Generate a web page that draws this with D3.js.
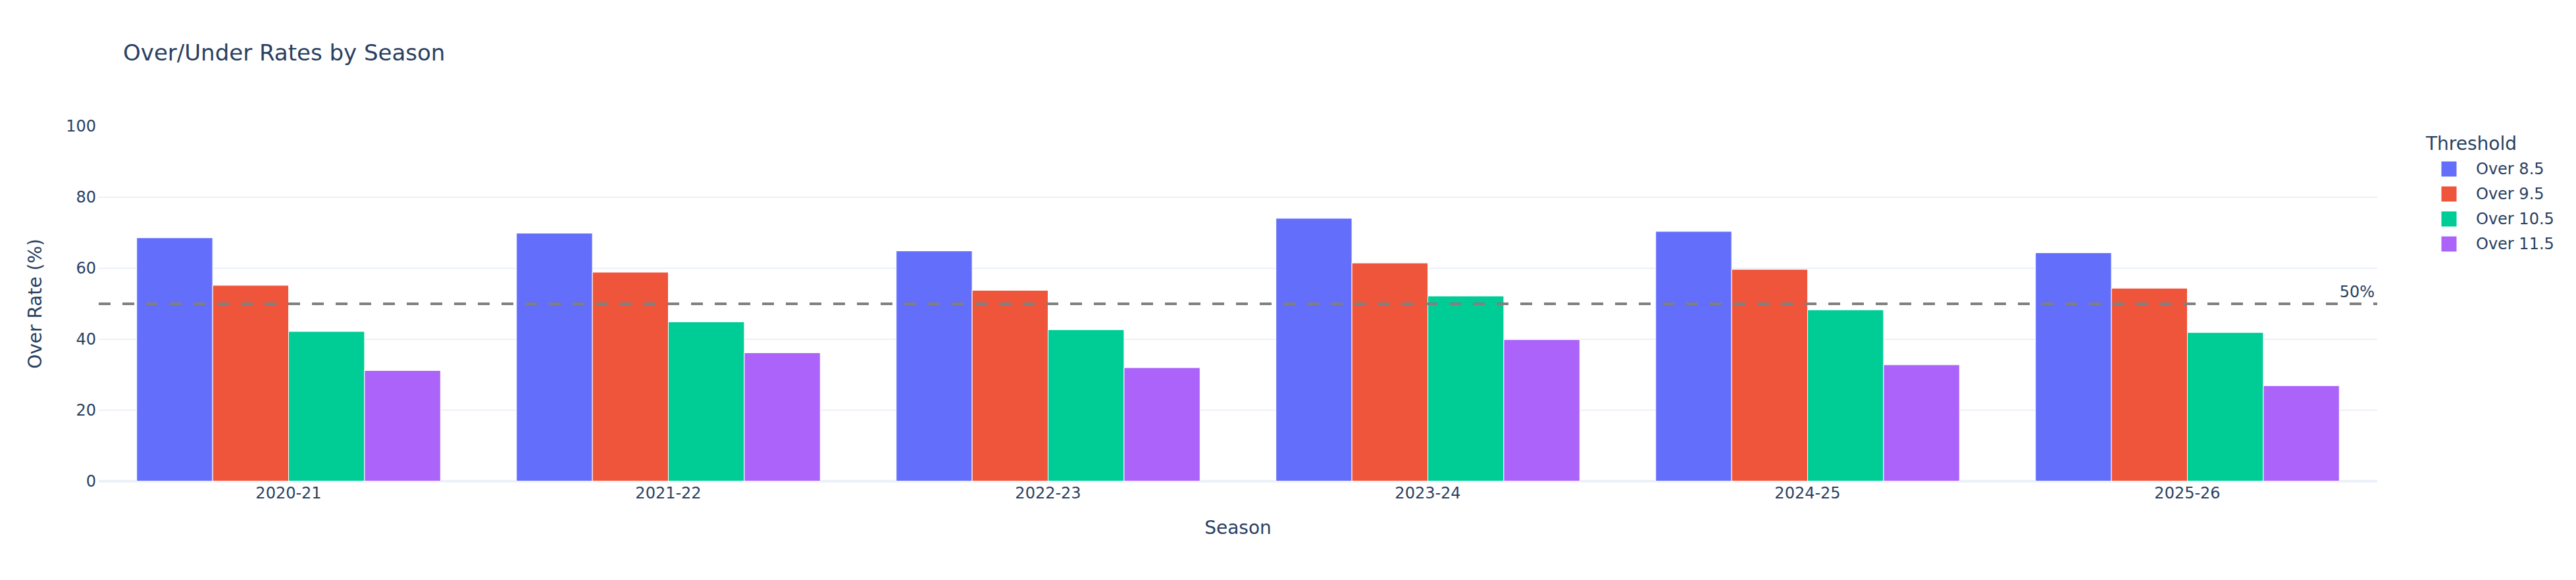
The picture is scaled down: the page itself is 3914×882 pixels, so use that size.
<!DOCTYPE html>
<html>
<head>
<meta charset="utf-8">
<script src="https://cdn.jsdelivr.net/npm/d3@7"></script>
<style>
  html, body { margin: 0; padding: 0; background: #fff; }
  svg { display: block; }
  text { font-family: "DejaVu Sans", Verdana, sans-serif; fill: #2a3f5f; }
</style>
</head>
<body>
<svg id="chart" width="3914" height="882"></svg>
<script>
// ---- data ----
const seasons = ["2020-21", "2021-22", "2022-23", "2023-24", "2024-25", "2025-26"];
const thresholds = ["Over 8.5", "Over 9.5", "Over 10.5", "Over 11.5"];
const over85  = [68.6, 69.9, 64.9, 74.1, 70.4, 64.4];
const over95  = [55.2, 58.9, 53.8, 61.5, 59.7, 54.4];
const over105 = [42.2, 44.9, 42.7, 52.2, 48.3, 41.9];
const over115 = [31.2, 36.2, 32.0, 39.9, 32.8, 26.9];
const yTicks = [0, 20, 40, 60, 80, 100];
const refValue = 50;
const refLabel = "50%";
const titleText = "Over/Under Rates by Season";
const xTitle = "Season";
const yTitle = "Over Rate (%)";
const legendTitle = "Threshold";
const colors = ["#636efa", "#EF553B", "#00cc96", "#ab63fa"];

const seriesValues = [over85, over95, over105, over115];
const rows = [];
seasons.forEach((s, i) => {
  thresholds.forEach((t, j) => rows.push({ season: s, threshold: t, value: seriesValues[j][i] }));
});

// ---- layout ----
const FONT = '"DejaVu Sans", Verdana, sans-serif';
const svg = d3.select("#chart");
const W = 3914, H = 882;
const plot = { left: 150, right: 3612, top: 192.2, bottom: 731.7 };

svg.append("rect").attr("width", W).attr("height", H).attr("fill", "#fff");

const x = d3.scaleBand().domain(seasons).range([plot.left, plot.right])
  .paddingInner(0.2).paddingOuter(0.1);
const xs = d3.scaleBand().domain(thresholds).range([0, x.bandwidth()]).padding(0);
const y = d3.scaleLinear().domain([0, 100]).range([plot.bottom, plot.top]);
const color = d3.scaleOrdinal().domain(thresholds).range(colors);

// gridlines
const grid = svg.append("g");
grid.selectAll("line").data(yTicks.filter(t => t !== 0 && t !== 100)).join("line")
  .attr("x1", plot.left).attr("x2", plot.right)
  .attr("y1", d => y(d)).attr("y2", d => y(d))
  .attr("stroke", "#EBF0F8").attr("stroke-width", 2);

// zero line
svg.append("line")
  .attr("x1", plot.left).attr("x2", plot.right)
  .attr("y1", y(0)).attr("y2", y(0))
  .attr("stroke", "#EBF0F8").attr("stroke-width", 4);

// bars
svg.append("g").selectAll("rect").data(rows).join("rect")
  .attr("x", d => x(d.season) + xs(d.threshold))
  .attr("width", xs.bandwidth())
  .attr("y", d => y(d.value))
  .attr("height", d => y(0) - y(d.value))
  .attr("fill", d => color(d.threshold))
  .attr("stroke", "#fff").attr("stroke-width", 1);

// reference line
svg.append("line")
  .attr("x1", plot.left).attr("x2", plot.right)
  .attr("y1", y(refValue)).attr("y2", y(refValue))
  .attr("stroke", "#808080").attr("stroke-width", 4)
  .attr("stroke-dasharray", "18,18");
svg.append("text")
  .attr("x", plot.right - 4).attr("y", y(refValue) - 10)
  .attr("text-anchor", "end").attr("font-size", 24)
  .text(refLabel);

// y axis
const yAxis = d3.axisLeft(y).tickValues(yTicks).tickSize(0).tickPadding(0);
const gy = svg.append("g").attr("transform", `translate(${plot.left - 4},0)`).call(yAxis);
gy.select(".domain").remove();
gy.selectAll("text").attr("font-size", 24).attr("fill", "#2a3f5f").attr("font-family", FONT);

// x axis
const xAxis = d3.axisBottom(x).tickSize(0).tickPadding(0);
const gx = svg.append("g").attr("transform", `translate(0,${plot.bottom})`).call(xAxis);
gx.select(".domain").remove();
gx.selectAll("text").attr("font-size", 24).attr("fill", "#2a3f5f")
  .attr("dy", null).attr("y", 26).attr("font-family", FONT);

// axis titles
svg.append("text").attr("x", (plot.left + plot.right) / 2).attr("y", 812)
  .attr("text-anchor", "middle").attr("font-size", 28).text(xTitle);
svg.append("text")
  .attr("transform", `translate(63,${(plot.top + plot.bottom) / 2}) rotate(-90)`)
  .attr("text-anchor", "middle").attr("font-size", 28).text(yTitle);

// title
svg.append("text").attr("x", 187).attr("y", 92).attr("font-size", 34).text(titleText);

// legend
const lg = svg.append("g");
lg.append("text").attr("x", 3686).attr("y", 228).attr("font-size", 28).text(legendTitle);
const items = lg.selectAll("g.item").data(thresholds).join("g").attr("class", "item")
  .attr("transform", (d, i) => `translate(0,${257 + i * 38})`);
items.append("rect").attr("x", 3709).attr("y", -12).attr("width", 24).attr("height", 24)
  .attr("fill", d => color(d)).attr("stroke", "#fff").attr("stroke-width", 1);
items.append("text").attr("x", 3762).attr("y", 0).attr("dy", "0.35em")
  .attr("font-size", 24).text(d => d);
</script>
</body>
</html>
